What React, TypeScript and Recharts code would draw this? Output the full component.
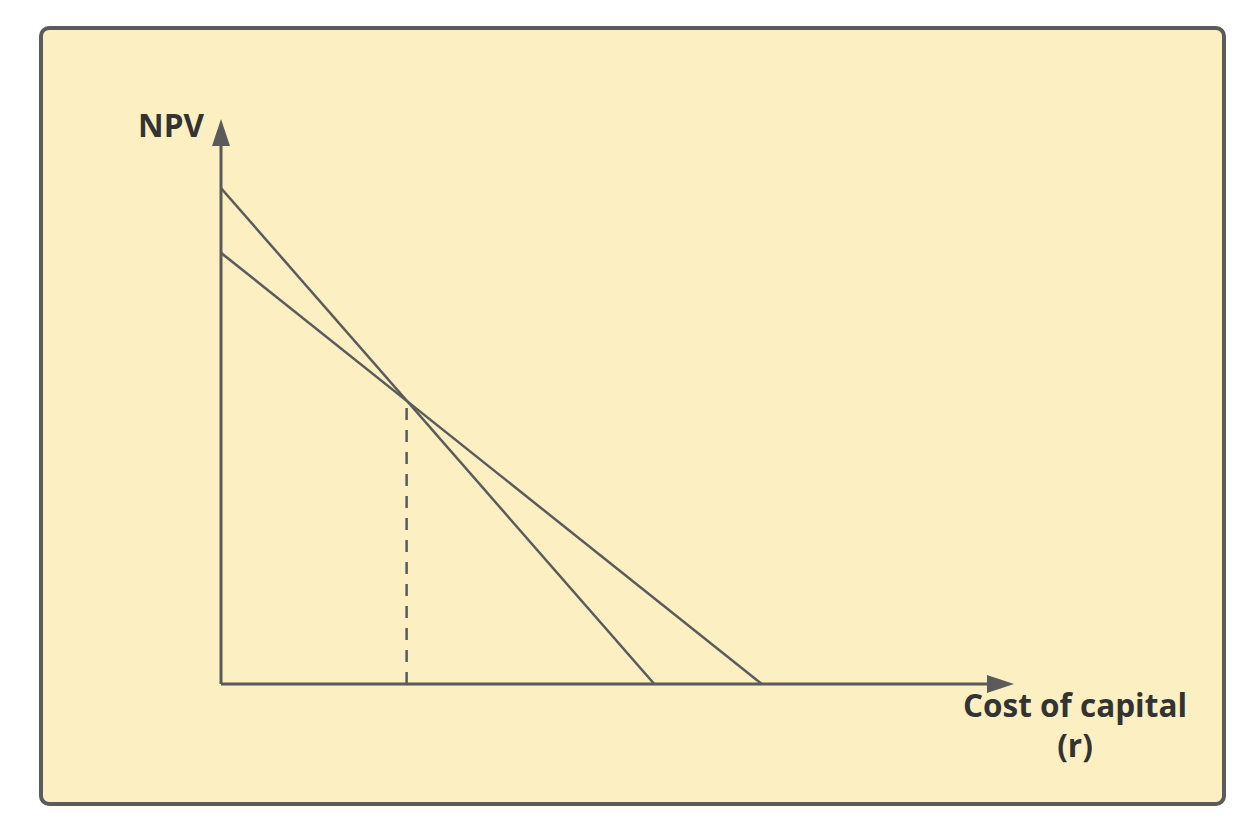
import React from 'react';
import { LineChart, Line, XAxis, YAxis } from 'recharts';

// Cost of capital (r) vs NPV for two projects
const projectA = [
  { r: 0, npv: 92 },
  { r: 11.3, npv: 0 },
];

const projectB = [
  { r: 0, npv: 80 },
  { r: 14.1, npv: 0 },
];

// crossover rate drop line
const crossover = [
  { r: 4.84, npv: 0 },
  { r: 4.84, npv: 52.6 },
];

const xLabelLines = ['Cost of capital', '(r)'];
const yLabel = 'NPV';

const INK = '#5b5b5b';
const TEXT = '#333333';
const FONT = '"Open Sans", Lato, sans-serif';

const XLabel = (props: any) => {
  const { viewBox } = props;
  const cx = viewBox.x + viewBox.width + 87;
  const y0 = viewBox.y + 33;
  return (
    <g>
      {xLabelLines.map((t, i) => (
        <text
          key={t}
          x={cx}
          y={y0 + i * 40}
          textAnchor="middle"
          fontFamily={FONT}
          fontWeight={700}
          fontSize={31.5}
          fill={TEXT}
        >
          {t}
        </text>
      ))}
    </g>
  );
};

const YLabel = (props: any) => {
  const { viewBox } = props;
  const x = viewBox.x + viewBox.width - 50;
  const y = viewBox.y - 8;
  return (
    <text x={x} y={y} textAnchor="middle" fontFamily={FONT} fontWeight={700} fontSize={31.5} fill={TEXT}>
      {yLabel}
    </text>
  );
};

const App: React.FC = () => {
  return (
    <div style={{ position: 'absolute', left: 0, top: 0, width: 1250, height: 834, background: '#ffffff' }}>
      <div
        style={{
          position: 'absolute',
          left: 39,
          top: 26,
          width: 1179,
          height: 772,
          background: '#fcf0c2',
          border: `4px solid ${INK}`,
          borderRadius: 10,
        }}
      />
      <svg width={0} height={0} style={{ position: 'absolute' }}>
        <defs>
          <marker
            id="axisArrow"
            markerUnits="userSpaceOnUse"
            markerWidth={27}
            markerHeight={18}
            refX={1}
            refY={9}
            orient="auto-start-reverse"
          >
            <path d="M0,0 L27,9 L0,18 Z" fill={INK} />
          </marker>
        </defs>
      </svg>
      <div style={{ position: 'absolute', left: 0, top: 0 }}>
        <LineChart width={1250} height={834} margin={{ top: 145, right: 262, bottom: 149, left: 220 }}>
          <XAxis
            type="number"
            dataKey="r"
            domain={[0, 20]}
            allowDataOverflow
            height={1}
            tick={false}
            tickLine={false}
            axisLine={{ stroke: INK, strokeWidth: 3, markerEnd: 'url(#axisArrow)' }}
            label={<XLabel />}
          />
          <YAxis
            type="number"
            dataKey="npv"
            domain={[0, 100]}
            allowDataOverflow
            width={1}
            tick={false}
            tickLine={false}
            axisLine={{ stroke: INK, strokeWidth: 3, markerStart: 'url(#axisArrow)' }}
            label={<YLabel />}
          />
          <Line
            data={projectA}
            dataKey="npv"
            type="linear"
            stroke={INK}
            strokeWidth={2.5}
            dot={false}
            activeDot={false}
            isAnimationActive={false}
          />
          <Line
            data={projectB}
            dataKey="npv"
            type="linear"
            stroke={INK}
            strokeWidth={2.5}
            dot={false}
            activeDot={false}
            isAnimationActive={false}
          />
          <Line
            data={crossover}
            dataKey="npv"
            type="linear"
            stroke={INK}
            strokeWidth={2.5}
            strokeDasharray="12 10"
            dot={false}
            activeDot={false}
            isAnimationActive={false}
          />
        </LineChart>
      </div>
    </div>
  );
};

export default App;
